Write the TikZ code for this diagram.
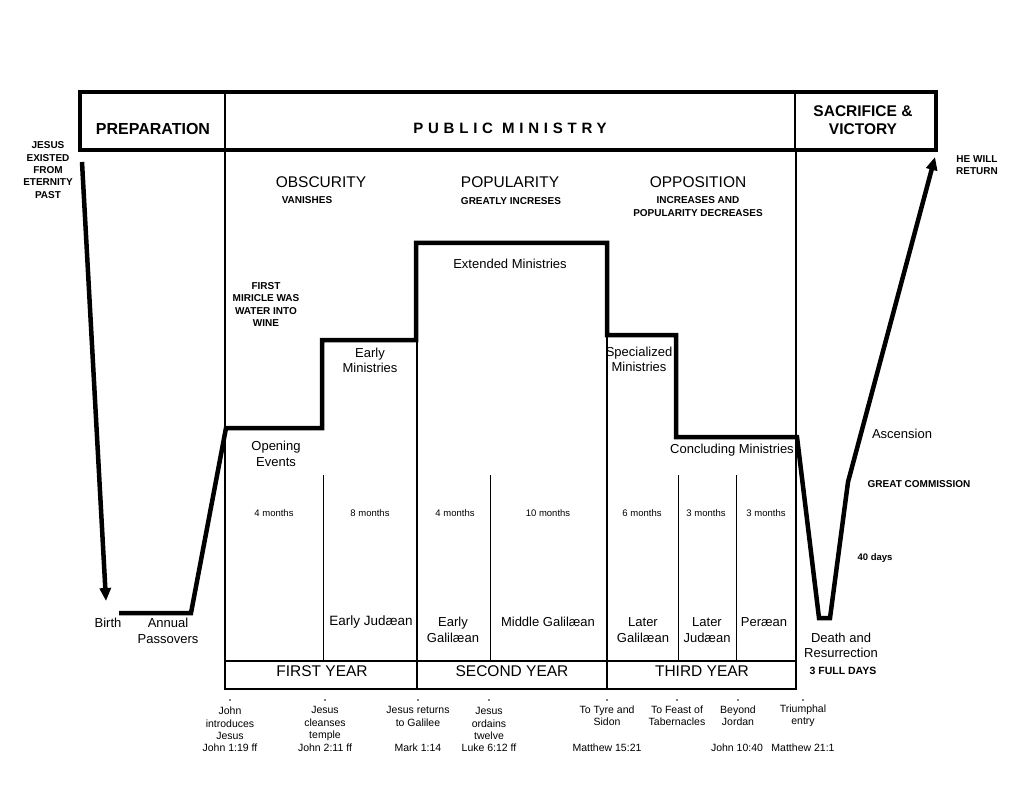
\documentclass[tikz,border=0pt]{standalone}
\usepackage{fontspec}
\setmainfont{Liberation Sans}
\usetikzlibrary{arrows.meta}

\tikzset{
  hdr/.style={font=\fontsize{15.5}{18.5}\selectfont\bfseries, align=center, inner sep=0pt},
  phase/.style={font=\fontsize{15.5}{18.5}\selectfont, inner sep=0pt},
  note/.style={font=\fontsize{10}{12.4}\selectfont\bfseries, align=center, inner sep=0pt},
  lbl/.style={font=\fontsize{13}{15.6}\selectfont, align=center, inner sep=0pt},
  mon/.style={font=\fontsize{9.5}{11}\selectfont, inner sep=0pt},
  evt/.style={font=\fontsize{10.5}{12.4}\selectfont, align=center, inner sep=0pt},
  prof/.style={line width=4.5pt, line join=miter},
  boxline/.style={line width=3.5pt},
  frame/.style={line width=1.4pt},
  sub/.style={line width=0.7pt},
  bigtip/.style={-{Triangle[length=13pt,width=11pt]}},
}

\begin{document}
\begin{tikzpicture}[x=1pt,y=1pt,yscale=-1,xscale=1]
    \useasboundingbox (0,0) rectangle (1024,791);

    %Header box
    \draw [boxline]  (80,92) rectangle (936,150) ;
    \draw [frame]  (225,92) -- (225,150) ;
    \draw [frame]  (795,92) -- (795,150) ;

    %Main frame
    \draw [frame]  (225,150) -- (225,689) -- (796,689) -- (796,150) ;
    \draw [frame]  (225,661) -- (796,661) ;
    \draw [frame]  (417,340) -- (417,689) ;
    \draw [frame]  (607,335) -- (607,689) ;
    %Straight Lines between month columns
    \draw [sub]  (323,475) -- (323,661) ;
    \draw [sub]  (490,475) -- (490,661) ;
    \draw [sub]  (678,475) -- (678,661) ;
    \draw [sub]  (736,475) -- (736,661) ;

    %Profile points
    \coordinate (p0) at (119,613);
    \coordinate (p1) at (191,613);
    \coordinate (p2) at (226,428);
    \coordinate (p3) at (322,428);
    \coordinate (p4) at (322,340);
    \coordinate (p5) at (416,340);
    \coordinate (p6) at (416,243);
    \coordinate (p7) at (607,243);
    \coordinate (p8) at (607,335);
    \coordinate (p9) at (676,335);
    \coordinate (p10) at (676,437);
    \coordinate (p11) at (797,437);
    \coordinate (p12) at (819,618);
    \coordinate (p13) at (830,618);
    \coordinate (p14) at (848,482);
    \coordinate (p15) at (935,157);
    \coordinate (past) at (82,162);
    \coordinate (birth) at (106,601);

    %Eternity arrow
    \draw [prof, bigtip]  (past) -- (birth) ;
    %Life line
    \draw [prof, bigtip]  (p0) -- (p1) -- (p2) -- (p3) -- (p4) -- (p5) -- (p6) -- (p7) -- (p8) -- (p9) -- (p10) -- (p11) -- (p12) -- (p13) -- (p14) -- (p15) ;

    % Text Node
    \draw (153,129) node [hdr, font=\fontsize{16}{19}\selectfont\bfseries] (prep) {PREPARATION};
    % Text Node
    \draw (510,128) node [hdr, font=\fontsize{15}{18}\selectfont\bfseries\addfontfeature{LetterSpace=32}] (pub) {PUBLIC MINISTRY};
    % Text Node
    \draw (863,120) node [hdr] (sac) {SACRIFICE \&\\VICTORY};
    % Text Node
    \draw (48,170) node [note] (eternity) {JESUS\\EXISTED\\FROM\\ETERNITY\\PAST};
    % Text Node
    \draw (977,165) node [note] (return) {HE WILL\\RETURN};

    % Text Node
    \draw (321,182) node [phase] (obsc) {OBSCURITY};
    \draw (307,200) node [note] (vanish) {VANISHES};
    % Text Node
    \draw (510,182) node [phase] (popu) {POPULARITY};
    \draw (511,201) node [note] (incr) {GREATLY INCRESES};
    % Text Node
    \draw (698,182) node [phase] (oppo) {OPPOSITION};
    \draw (698,206.5) node [note] (decr) {INCREASES AND\\POPULARITY DECREASES};

    % Text Node
    \draw (266,304.5) node [note] (miracle) {FIRST\\MIRICLE WAS\\WATER INTO\\WINE};
    % Text Node
    \draw (510,264) node [lbl] (extm) {Extended Ministries};
    % Text Node
    \draw (370,360.5) node [lbl] (earlym) {Early\\Ministries};
    % Text Node
    \draw (276,454) node [lbl] (openev) {Opening\\Events};
    % Text Node
    \draw (639,359.5) node [lbl] (specm) {Specialized\\Ministries};
    % Text Node
    \draw (732,450) node [lbl] (concm) {Concluding Ministries};

    % Text Node
    \draw (274,513) node [mon] (m1) {4 months};
    \draw (370,513) node [mon] (m2) {8 months};
    \draw (455,513) node [mon] (m3) {4 months};
    \draw (548,513) node [mon] (m4) {10 months};
    \draw (642,513) node [mon] (m5) {6 months};
    \draw (706,513) node [mon] (m6) {3 months};
    \draw (766,513) node [mon] (m7) {3 months};

    % Text Node
    \draw (371,622) node [lbl, font=\fontsize{13.5}{16}\selectfont] (ejud) {Early Judæan};
    \draw (453,630) node [lbl] (egal) {Early\\Galilæan};
    \draw (548,622) node [lbl] (mgal) {Middle Galilæan};
    \draw (643,630) node [lbl] (lgal) {Later\\Galilæan};
    \draw (707,630) node [lbl] (ljud) {Later\\Judæan};
    \draw (764,622) node [lbl] (pera) {Peræan};

    % Text Node
    \draw (322,671) node [phase] (y1) {FIRST YEAR};
    \draw (512,671) node [phase] (y2) {SECOND YEAR};
    \draw (702,671) node [phase] (y3) {THIRD YEAR};

    % Text Node
    \draw (108,623) node [lbl] (birthl) {Birth};
    \draw (168,631) node [lbl] (pass) {Annual\\Passovers};

    % Text Node
    \draw (902,434) node [lbl] (asc) {Ascension};
    \draw (919,484) node [note] (comm) {GREAT COMMISSION};
    \draw (875,558) node [mon, font=\fontsize{9.5}{11}\selectfont\bfseries] (forty) {40 days};
    \draw (841,645.5) node [lbl] (death) {Death and\\Resurrection};
    \draw (843,671) node [note, font=\fontsize{10.5}{12}\selectfont\bfseries] (three) {3 FULL DAYS};

    %Event marks
    \foreach \x in {230,325,418,489,607,677,738,803}
        \fill (\x,700) circle (0.8);

    % Text Node
    \draw (230,723.5) node [evt] (e1) {John\\introduces\\Jesus};
    \draw (325,723.5) node [evt] (e2) {Jesus\\cleanses\\temple};
    \draw (418,716.5) node [evt] (e3) {Jesus returns\\to Galilee};
    \draw (489,723.5) node [evt] (e4) {Jesus\\ordains\\twelve};
    \draw (607,716) node [evt] (e5) {To Tyre and\\Sidon};
    \draw (677,716) node [evt] (e6) {To Feast of\\Tabernacles};
    \draw (738,716) node [evt] (e7) {Beyond\\Jordan};
    \draw (803,716) node [evt] (e8) {Triumphal\\entry};
    % Text Node
    \draw (230,748) node [evt] (r1) {John 1:19 ff};
    \draw (325,748) node [evt] (r2) {John 2:11 ff};
    \draw (418,748) node [evt] (r3) {Mark 1:14};
    \draw (489,748) node [evt] (r4) {Luke 6:12 ff};
    \draw (607,748) node [evt] (r5) {Matthew 15:21};
    \draw (737,748) node [evt] (r7) {John 10:40};
    \draw (803,748) node [evt] (r8) {Matthew 21:1};
\end{tikzpicture}
\end{document}
